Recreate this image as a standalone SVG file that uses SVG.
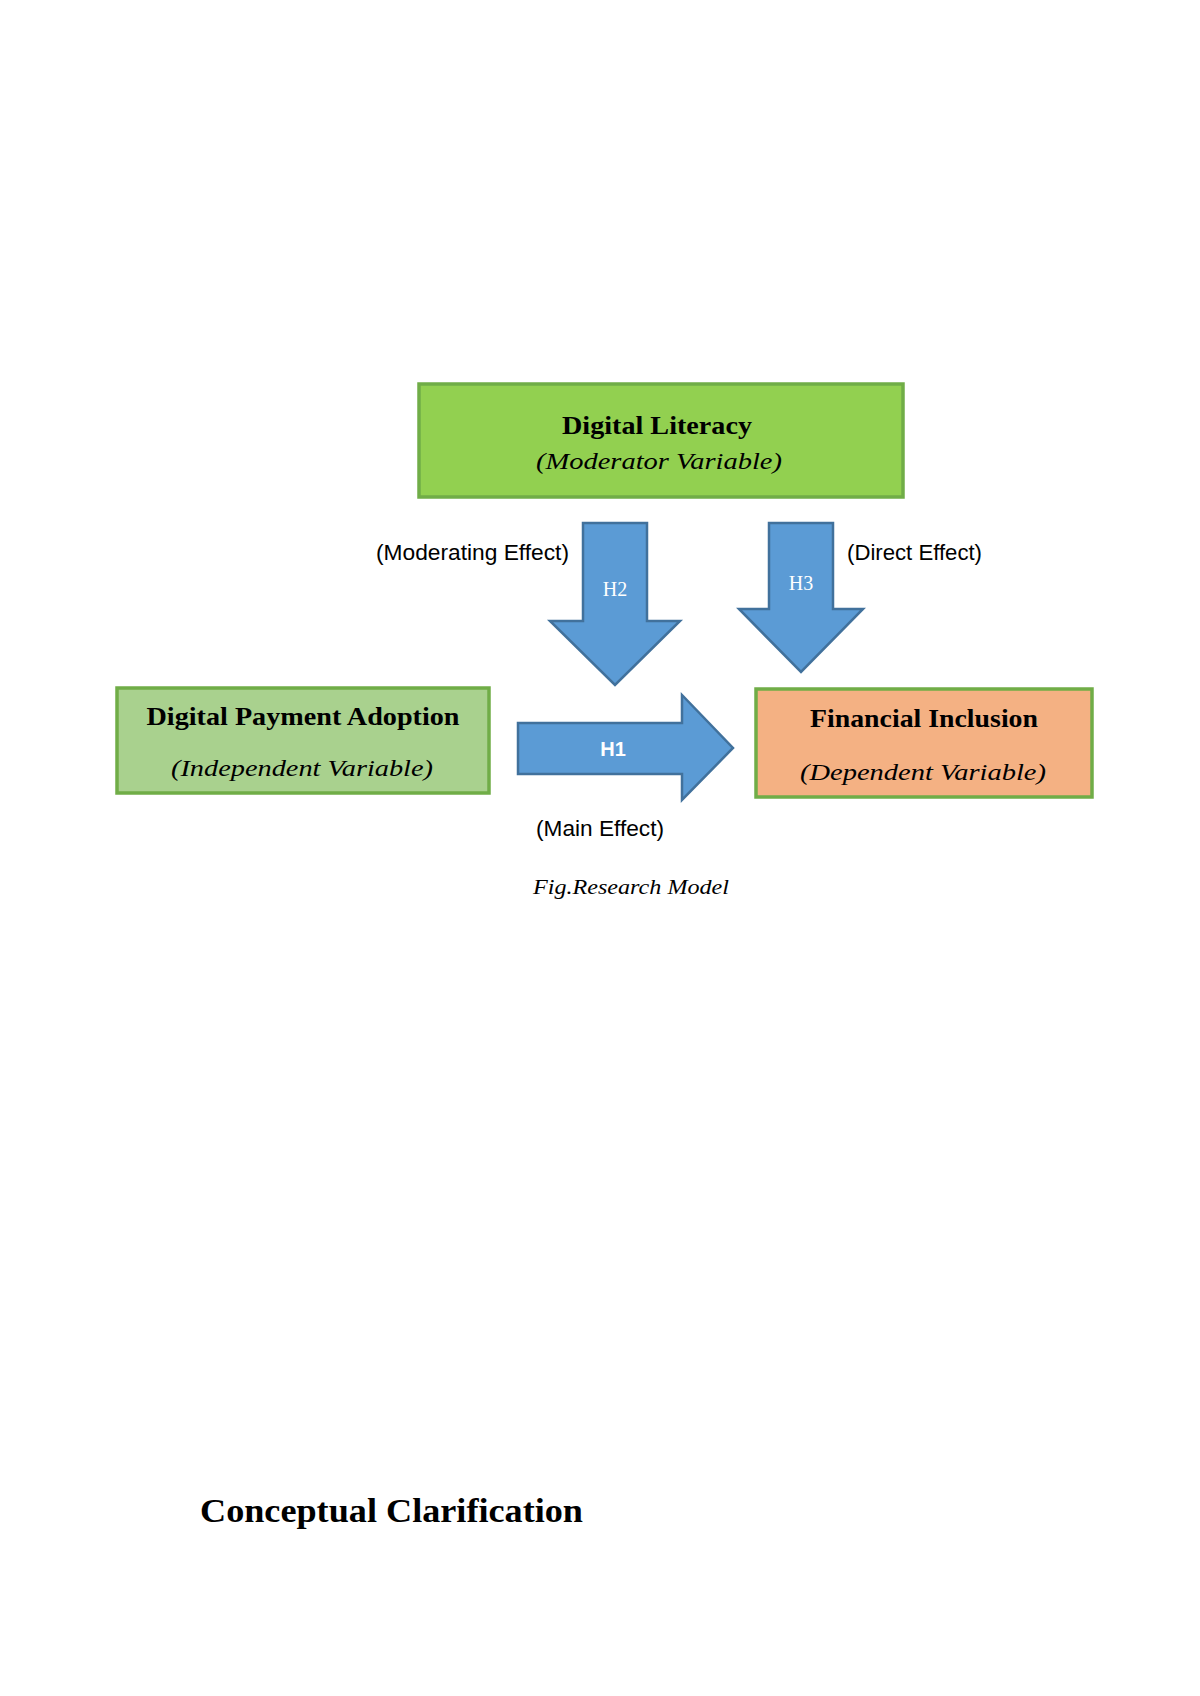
<svg xmlns="http://www.w3.org/2000/svg" width="1200" height="1696" viewBox="0 0 1200 1696">
<style>
.box{stroke:#70AD47;stroke-width:3.5}
.arrow{fill:#5B9BD5;stroke:#41719C;stroke-width:2.5;stroke-linejoin:miter}
.title{font-family:"Liberation Serif",serif;font-weight:bold;font-size:25px;fill:#000;text-anchor:middle}
.sub{font-family:"Liberation Serif",serif;font-style:italic;font-size:24px;fill:#000;text-anchor:middle}
.eff{font-family:"Liberation Sans",Arial,sans-serif;font-size:22px;fill:#000}
.hs{font-family:"Liberation Serif",serif;font-size:20px;fill:#fff;text-anchor:middle}
.hb{font-family:"Liberation Sans",Arial,sans-serif;font-weight:bold;font-size:20px;fill:#fff;text-anchor:middle}
</style>
<rect width="1200" height="1696" fill="#fff"/>
<g id="connectors">
  <g id="h2">
    <polygon class="arrow" points="583,523 647,523 647,621 680,621 615,685 550,621 583,621"/>
    <text class="hs" x="615" y="596">H2</text>
  </g>
  <g id="h3">
    <polygon class="arrow" points="769,523 833,523 833,609 863,609 801,672 739,609 769,609"/>
    <text class="hs" x="801" y="590">H3</text>
  </g>
  <g id="h1">
    <polygon class="arrow" points="518,723 682,723 682,695 733,748 682,800 682,774 518,774"/>
    <text class="hb" x="613" y="756">H1</text>
  </g>
  <text class="eff" x="376" y="560" textLength="193" lengthAdjust="spacingAndGlyphs">(Moderating Effect)</text>
  <text class="eff" x="847" y="560" textLength="135" lengthAdjust="spacingAndGlyphs">(Direct Effect)</text>
  <text class="eff" x="536" y="836" textLength="128" lengthAdjust="spacingAndGlyphs">(Main Effect)</text>
</g>
<g id="digital-literacy">
  <rect class="box" x="419" y="384" width="484" height="113" fill="#92D050"/>
  <text class="title" x="657" y="434" textLength="190" lengthAdjust="spacingAndGlyphs">Digital Literacy</text>
  <text class="sub" x="659" y="469" textLength="246" lengthAdjust="spacingAndGlyphs">(Moderator Variable)</text>
</g>
<g id="digital-payment-adoption">
  <rect class="box" x="117" y="688" width="372" height="105" fill="#A9D18E"/>
  <text class="title" x="303" y="725" textLength="313" lengthAdjust="spacingAndGlyphs">Digital Payment Adoption</text>
  <text class="sub" x="302" y="776" textLength="262" lengthAdjust="spacingAndGlyphs">(Independent Variable)</text>
</g>
<g id="financial-inclusion">
  <rect class="box" x="756" y="689" width="336" height="108" fill="#F4B183"/>
  <text class="title" x="924" y="727" textLength="228" lengthAdjust="spacingAndGlyphs">Financial Inclusion</text>
  <text class="sub" x="923" y="780" textLength="246" lengthAdjust="spacingAndGlyphs">(Dependent Variable)</text>
</g>
<text x="533" y="894" font-family="Liberation Serif,serif" font-style="italic" font-size="21" textLength="196" lengthAdjust="spacingAndGlyphs">Fig.Research Model</text>
<text x="200" y="1522" font-family="Liberation Serif,serif" font-weight="bold" font-size="34" textLength="383" lengthAdjust="spacingAndGlyphs">Conceptual Clarification</text>
</svg>
